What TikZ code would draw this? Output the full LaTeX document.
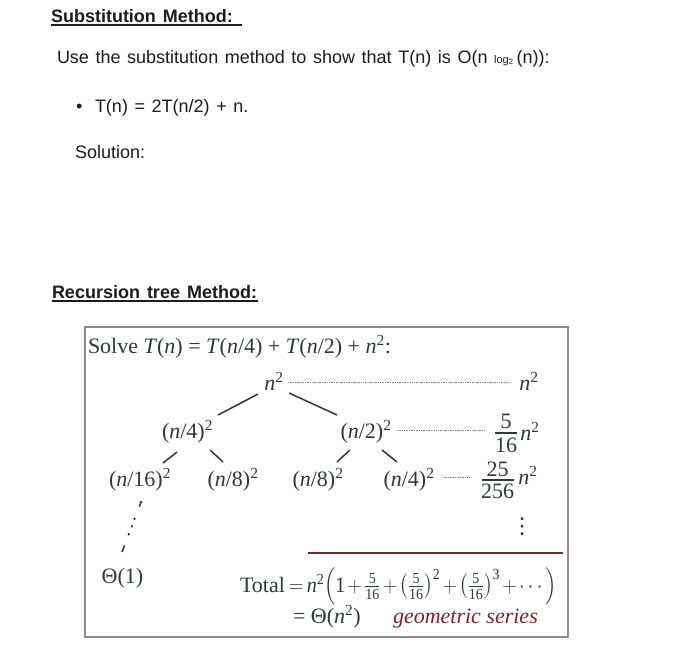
\RequirePackage{fix-cm}
\documentclass[tikz,border=0pt]{standalone}
\usepackage{fontspec}
\usepackage{amsmath}
\setmainfont{Liberation Serif}
\newfontfamily\arialf{Liberation Sans}
\newfontfamily\djvf{DejaVu Sans}
\newcommand\myheadfont{\arialf\fontsize{18}{20}\selectfont\bfseries\spaceskip=7pt\relax}
\newcommand\mybodyfont{\arialf\fontsize{18}{20}\selectfont\spaceskip=6.6pt\relax}
\definecolor{ink}{RGB}{28,28,28}
\definecolor{treeink}{RGB}{45,58,58}
\definecolor{dred}{RGB}{125,35,40}
\definecolor{boxgray}{RGB}{140,140,140}
\begin{document}
\begin{tikzpicture}[x=1pt,y=-1pt,
  every node/.style={inner sep=0pt, outer sep=0pt},
  head/.style={anchor=base west, font=\myheadfont, text=ink},
  body/.style={anchor=base west, font=\mybodyfont, text=ink},
  tn/.style={anchor=base, font=\fontsize{22}{24}\selectfont, text=treeink},
  tw/.style={anchor=base west, font=\fontsize{22}{24}\selectfont, text=treeink},
  edge/.style={draw=treeink, line width=1.5pt},
  fbar/.style={draw=treeink, line width=1.1pt},
  dotl/.style={draw=gray, line width=0.8pt, dash pattern=on 0.8pt off 0.9pt},
  uline/.style={draw=ink, line width=1.3pt}]
\useasboundingbox (0,0) rectangle (700,653);
\fill[white] (0,0) rectangle (700,653);

% top text
\node[head] (h1) at (51,22) {Substitution Method:};
\draw[uline] ([shift={(0,3)}]h1.base west) -- ([shift={(9,3)}]h1.base east);
\node[body] (q) at (57,63) {Use the substitution method to show that T(n) is O(n {\fontsize{11}{12}\selectfont log\textsubscript{2}}\,(n)):};
\node[body] (bul) at (76,112) {•};
\node[body] (rec) at (95,112) {T(n) = 2T(n/2) + n.};
\node[body] (sol) at (75,158) {Solution:};

\node[head] (h2) at (52,298) {Recursion tree Method:};
\draw[uline] ([shift={(0,3)}]h2.base west) -- ([shift={(1,3)}]h2.base east);

% box
\draw[boxgray, line width=1.4pt] (85,327) rectangle (568,637);

\node[tw] (solve) at (88,353) {Solve \textit{T}(\textit{n}) = \textit{T}(\textit{n}/4) + \textit{T}(\textit{n}/2) + \textit{n}\textsuperscript{2}:};

% tree nodes
\node[tn] (root) at (274,390) {\textit{n}\textsuperscript{2}};
\node[tn] (L) at (187.5,438) {(\textit{n}/4)\textsuperscript{2}};
\node[tn] (R) at (366,438) {(\textit{n}/2)\textsuperscript{2}};
\node[tn] (LL) at (140,486) {(\textit{n}/16)\textsuperscript{2}};
\node[tn] (LR) at (233,486) {(\textit{n}/8)\textsuperscript{2}};
\node[tn] (RL) at (318,486) {(\textit{n}/8)\textsuperscript{2}};
\node[tn] (RR) at (409,486) {(\textit{n}/4)\textsuperscript{2}};
\node[tn] (theta) at (122.5,583) {Θ(1)};

% right column
\node[tn] (c1) at (529,390) {$\mathit{n}^{\mathrm{2}}$};
\node[tn] (f2n) at (506,428) {5};
\node[tn] (f2d) at (506,452) {16};
\draw[fbar] ([shift={(-11,-19)}]f2d.base) -- ([shift={(11,-19)}]f2d.base);
\node[tn] (c2) at (530,440) {$\mathit{n}^{\mathrm{2}}$};
\node[tn] (f3n) at (497.5,476) {25};
\node[tn] (f3d) at (497.5,498) {256};
\draw[fbar] ([shift={(-16,-18)}]f3d.base) -- ([shift={(16,-18)}]f3d.base);
\node[tn] (c3) at (528,484) {$\mathit{n}^{\mathrm{2}}$};
\node[anchor=center, font=\djvf\fontsize{22}{24}\selectfont, text=treeink] (c4) at (522,527) {⋮};

% edges
\draw[edge] ([shift={(-16,4)}]root.base) -- ([shift={(30.5,-23)}]L.base);
\draw[edge] ([shift={(15,3)}]root.base) -- ([shift={(-29,-23)}]R.base);
\draw[edge] ([shift={(-10.5,14)}]L.base) -- ([shift={(23,-23)}]LL.base);
\draw[edge] ([shift={(22.5,12)}]L.base) -- ([shift={(-10,-24)}]LR.base);
\draw[edge] ([shift={(-16,12)}]R.base) -- ([shift={(19,-24)}]RL.base);
\draw[edge] ([shift={(16,12)}]R.base) -- ([shift={(-12,-24)}]RR.base);
\draw[draw=treeink, line width=1.5pt, dash pattern=on 5pt off 41.5pt on 7pt]
  ([shift={(1,16)}]LL.base) -- ([shift={(-0.5,-31)}]theta.base);
\draw[draw=treeink, line width=2.6pt, line cap=round,
  dash pattern=on 0pt off 18pt on 0pt off 8pt on 0pt off 8.5pt on 0pt off 40pt]
  ([shift={(1,16)}]LL.base) -- ([shift={(-0.5,-31)}]theta.base);

% dotted level lines
\draw[dotl] ([shift={(14,-8)}]root.base) -- ([shift={(-19,-8)}]c1.base);
\draw[dotl] ([shift={(31,-8)}]R.base) -- ([shift={(-21,2)}]f2n.base);
\draw[dotl] ([shift={(34,-9)}]RR.base) -- ([shift={(-27.5,1)}]f3n.base);

% total
\draw[dred, line width=2.2pt] (308,553) -- (563,553);
\node[tw] (tot) at (240,592) {Total};
\node[tw] (sum) at (289,592) {\resizebox{268pt}{\height}{$\medmuskip=2mu\thickmuskip=3mu =\mathit{n}^{\mathrm{2}}\Bigl(\mathrm{1}+\tfrac{\mathrm{5}}{\mathrm{16}}+\bigl(\tfrac{\mathrm{5}}{\mathrm{16}}\bigr)^{\mathrm{2}}+\bigl(\tfrac{\mathrm{5}}{\mathrm{16}}\bigr)^{\mathrm{3}}+\cdots\Bigr)$}};
\node[tw] (res) at (293,623) {= Θ(\textit{n}\textsuperscript{2})};
\node[tw, text=dred] (geo) at (393,623) {\textit{geometric series}};
\end{tikzpicture}
\end{document}
